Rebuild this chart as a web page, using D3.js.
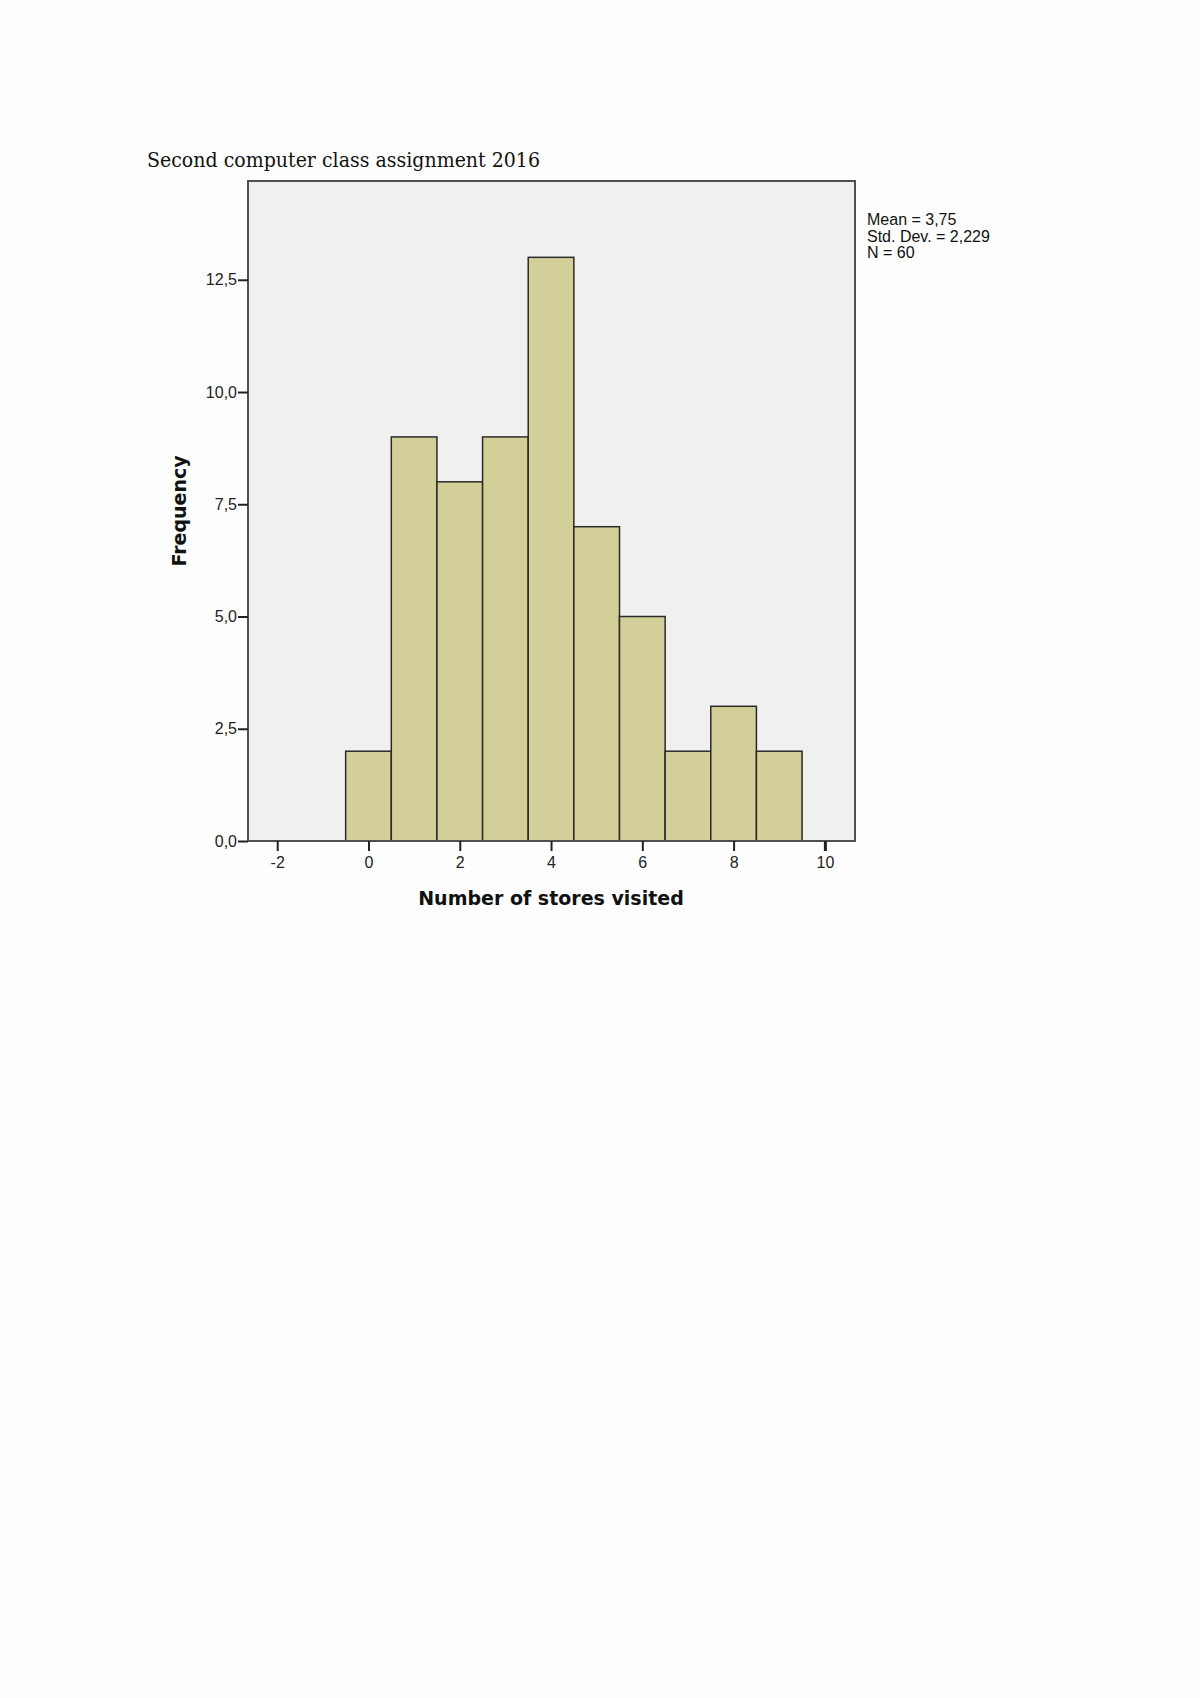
<!DOCTYPE html>
<html><head><meta charset="utf-8">
<script src="https://cdn.jsdelivr.net/npm/d3@7"></script>
<style>body{margin:0;background:#fefefe;} svg{display:block;}</style>
</head><body>
<svg id="c" width="1200" height="1698"></svg>
<script>
const binCenters = [0,1,2,3,4,5,6,7,8,9];
const frequencies = [2,9,8,9,13,7,5,2,3,2];
const xTicks = [-2,0,2,4,6,8,10];
const yTicks = [0,2.5,5,7.5,10,12.5];
const statsLines = ["Mean = 3,75","Std. Dev. = 2,229","N = 60"];
const titleText = "Second computer class assignment 2016";
const xLabel = "Number of stores visited";
const yLabel = "Frequency";

const svg = d3.select("#c");
const L=248, R=855, T=181, B=841;
const x = d3.scaleLinear().domain([-2.64,10.66]).range([L,R]);
const y = d3.scaleLinear().domain([0,14.7]).range([B,T]);
const comma = v => d3.format(".1f")(v).replace(".", ",");

svg.append("rect").attr("x",L).attr("y",T).attr("width",R-L).attr("height",B-T)
  .attr("fill","#f0f0f0");

svg.append("g").selectAll("rect").data(binCenters).join("rect")
  .attr("x",d=>x(d-0.5)).attr("width",d=>x(d+0.5)-x(d-0.5))
  .attr("y",(d,i)=>y(frequencies[i])).attr("height",(d,i)=>y(0)-y(frequencies[i]))
  .attr("fill","#d3cf98").attr("stroke","#2a2a2a").attr("stroke-width",1.5);

svg.append("rect").attr("x",L).attr("y",T).attr("width",R-L).attr("height",B-T)
  .attr("fill","none").attr("stroke","#505050").attr("stroke-width",2);

const xa = svg.append("g").attr("transform",`translate(0,${B})`)
  .call(d3.axisBottom(x).tickValues(xTicks).tickSize(10).tickPadding(6).tickFormat(d => String(d)));
xa.select(".domain").remove();
xa.selectAll("line").attr("stroke","#222").attr("stroke-width",d => d === 10 ? 3 : 2);
xa.selectAll("text").attr("font-family","Liberation Sans, Arial, sans-serif").attr("font-size",16).attr("fill","#222");

const ya = svg.append("g").attr("transform",`translate(${L},0)`)
  .call(d3.axisLeft(y).tickValues(yTicks).tickSize(10).tickPadding(1).tickFormat(comma));
ya.select(".domain").remove();
ya.selectAll("line").attr("stroke","#222").attr("stroke-width",2);
ya.selectAll("text").attr("font-family","Liberation Sans, Arial, sans-serif").attr("font-size",16).attr("fill","#222");

svg.append("text").attr("x",147).attr("y",167).text(titleText)
  .attr("font-family","DejaVu Serif, serif").attr("font-size",20).attr("fill","#111")
  .attr("textLength",393).attr("lengthAdjust","spacingAndGlyphs");

svg.append("text").attr("x",551).attr("y",905).attr("text-anchor","middle").text(xLabel)
  .attr("font-family","DejaVu Sans, sans-serif").attr("font-weight","bold").attr("font-size",19).attr("fill","#111");

svg.append("text").attr("transform","translate(186,511) rotate(-90)").attr("text-anchor","middle").text(yLabel)
  .attr("font-family","DejaVu Sans, sans-serif").attr("font-weight","bold").attr("font-size",19).attr("fill","#111");

svg.append("g").selectAll("text").data(statsLines).join("text")
  .attr("x",867).attr("y",(d,i)=>225+i*16.5).text(d=>d)
  .attr("font-family","Liberation Sans, Arial, sans-serif").attr("font-size",16).attr("fill","#111");
</script>
</body></html>
